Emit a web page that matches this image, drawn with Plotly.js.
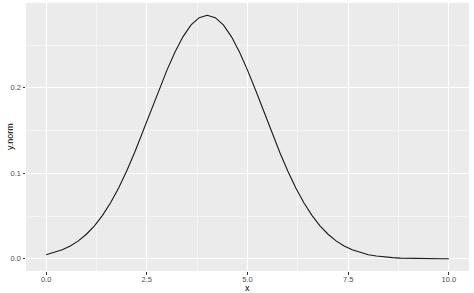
<!DOCTYPE html>
<html>
<head>
<meta charset="utf-8">
<script src="https://cdn.plot.ly/plotly-3.0.1.min.js"></script>
<style>html,body{margin:0;padding:0;background:#fff;}#chart{width:474px;height:293px;}</style>
</head>
<body>
<div id="chart"></div>
<script>
const xVals = [0,0.2,0.4,0.6,0.8,1.0,1.2,1.4,1.6,1.8,2.0,2.2,2.4,2.6,2.8,3.0,3.2,3.4,3.6,3.8,4.0,
  4.2,4.4,4.6,4.8,5.0,5.2,5.4,5.6,5.8,6.0,6.2,6.4,6.6,6.8,7.0,7.2,7.4,7.6,7.8,8.0,
  8.2,8.4,8.6,8.8,9.0,9.2,9.4,9.6,9.8,10.0];
const yNorm = [0.0048,0.0072,0.0105,0.0149,0.0209,0.0287,0.0386,0.0508,0.0656,0.0829,0.1027,
  0.1247,0.1483,0.1728,0.1974,0.2208,0.2420,0.2600,0.2736,0.2821,0.2850,
  0.2821,0.2736,0.2600,0.2420,0.2208,0.1974,0.1728,0.1483,0.1247,0.1027,
  0.0829,0.0656,0.0508,0.0386,0.0287,0.0209,0.0149,0.0105,0.0072,0.0048,
  0.0032,0.0020,0.0013,0.0008,0.0005,0.0003,0.0002,0.0001,0.00005,0.00003];
const xTicks = [0, 2.5, 5, 7.5, 10];
const xTickText = ["0.0", "2.5", "5.0", "7.5", "10.0"];
const yTicks = [0, 0.1, 0.2];
const yTickText = ["0.0", "0.1", "0.2"];
const xTitle = 'x';
const yTitle = 'y.norm';

const trace = {x: xVals, y: yNorm, type: 'scatter', mode: 'lines',
  line: {color: '#1a1a1a', width: 1.1}, hoverinfo: 'skip'};
const fam = 'Liberation Sans, Arial, sans-serif';
const tickFont = {family: fam, size: 7.5, color: '#4D4D4D'};
const titleFont = {family: fam, size: 9, color: '#000'};
const layout = {
  width: 474, height: 293,
  margin: {l: 26, r: 5, t: 3, b: 22},
  paper_bgcolor: '#ffffff', plot_bgcolor: '#EBEBEB',
  showlegend: false,
  xaxis: {range: [-0.5, 10.5], tickvals: xTicks, ticktext: xTickText,
    showgrid: true, gridcolor: '#ffffff', gridwidth: 1,
    minor: {tickvals: [1.25, 3.75, 6.25, 8.75], showgrid: true, gridcolor: '#ffffff', gridwidth: 0.5, ticks: ''},
    zeroline: false, showline: false, ticks: 'outside', ticklen: 2.5, tickcolor: '#333333', tickwidth: 1,
    ticklabelstandoff: -2,
    tickfont: tickFont},
  yaxis: {range: [-0.0143, 0.2993], tickvals: yTicks, ticktext: yTickText,
    showgrid: true, gridcolor: '#ffffff', gridwidth: 1,
    minor: {tickvals: [0.05, 0.15, 0.25], showgrid: true, gridcolor: '#ffffff', gridwidth: 0.5, ticks: ''},
    zeroline: false, showline: false, ticks: 'outside', ticklen: 2.5, tickcolor: '#333333', tickwidth: 1,
    tickfont: tickFont},
  annotations: [
    {text: xTitle, xref: 'paper', yref: 'paper', x: 0.5, y: 0, xanchor: 'center', yanchor: 'middle',
     yshift: -17, showarrow: false, font: titleFont},
    {text: yTitle, xref: 'paper', yref: 'paper', x: 0, y: 0.5, xanchor: 'center', yanchor: 'middle',
     xshift: -16, textangle: -90, showarrow: false, font: titleFont}
  ]
};
Plotly.newPlot('chart', [trace], layout, {displayModeBar: false, staticPlot: true});
</script>
</body>
</html>
